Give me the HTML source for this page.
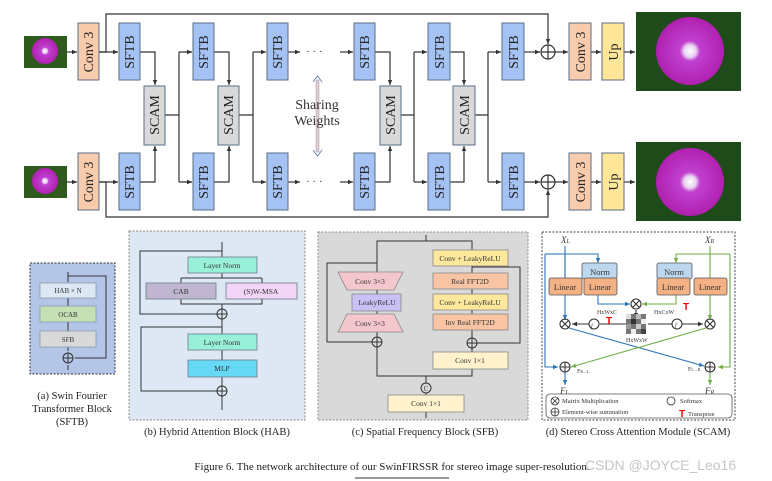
<!DOCTYPE html>
<html><head><meta charset="utf-8"><style>body{margin:0;background:#fff}svg{display:block}</style></head>
<body>
<svg width="772" height="481" viewBox="0 0 772 481" xmlns="http://www.w3.org/2000/svg" font-family="Liberation Serif, serif">
<defs>
<marker id="a" markerWidth="6" markerHeight="6" refX="5" refY="3" orient="auto" markerUnits="userSpaceOnUse"><path d="M0,0.8 L5,3 L0,5.2z" fill="#333"/></marker>
<marker id="ab" markerWidth="6" markerHeight="6" refX="5" refY="3" orient="auto" markerUnits="userSpaceOnUse"><path d="M0,0.8 L5,3 L0,5.2z" fill="#2e75b6"/></marker>
<marker id="ag" markerWidth="6" markerHeight="6" refX="5" refY="3" orient="auto" markerUnits="userSpaceOnUse"><path d="M0,0.8 L5,3 L0,5.2z" fill="#70ad47"/></marker>
<radialGradient id="fl"><stop offset="0" stop-color="#fff"/><stop offset="0.18" stop-color="#e8d0f0"/><stop offset="0.3" stop-color="#c040d0"/><stop offset="1" stop-color="#b020b0"/></radialGradient>
</defs>

<!-- flowers -->
<rect x="24" y="36" width="43" height="32" fill="#2e5a1e"/><circle cx="45" cy="51" r="13" fill="url(#fl)"/>
<rect x="24" y="166" width="43" height="32" fill="#2e5a1e"/><circle cx="45" cy="181" r="13" fill="url(#fl)"/>
<rect x="636" y="12" width="105" height="79" fill="#1f4a1a"/><circle cx="690" cy="51" r="34" fill="url(#fl)"/>
<rect x="636" y="142" width="105" height="79" fill="#1f4a1a"/><circle cx="690" cy="182" r="34" fill="url(#fl)"/>

<g stroke="#333" stroke-width="1.2" fill="none">
<!-- skip lines -->
<path d="M99,52 H106 V14 H548 V44" marker-end="url(#a)"/>
<path d="M99,182 H106 V217 H548 V190" marker-end="url(#a)"/>
<path d="M67,52 H77" marker-end="url(#a)"/><path d="M67,182 H77" marker-end="url(#a)"/>
<path d="M99,52 H118" marker-end="url(#a)"/><path d="M99,182 H118" marker-end="url(#a)"/>
<!-- col1 to scam1 -->
<path d="M140,52 H155 V85" marker-end="url(#a)"/><path d="M140,182 H155 V146" marker-end="url(#a)"/>
<path d="M165,115 H179 M179,52 V182 M179,52 H192 M179,182 H192"/><path d="M186,52 H192" marker-end="url(#a)"/><path d="M186,182 H192" marker-end="url(#a)"/>
<path d="M214,52 H229 V85" marker-end="url(#a)"/><path d="M214,182 H229 V146" marker-end="url(#a)"/>
<path d="M239,115 H253 M253,52 V182"/><path d="M253,52 H266" marker-end="url(#a)"/><path d="M253,182 H266" marker-end="url(#a)"/>
<path d="M288,52 H300" marker-end="url(#a)"/><path d="M288,182 H300" marker-end="url(#a)"/>
<path d="M340,52 H353" marker-end="url(#a)"/><path d="M340,182 H353" marker-end="url(#a)"/>
<path d="M375,52 H390 V85" marker-end="url(#a)"/><path d="M375,182 H390 V146" marker-end="url(#a)"/>
<path d="M401,115 H414 M414,52 V182"/><path d="M414,52 H427" marker-end="url(#a)"/><path d="M414,182 H427" marker-end="url(#a)"/>
<path d="M450,52 H464 V85" marker-end="url(#a)"/><path d="M450,182 H464 V146" marker-end="url(#a)"/>
<path d="M475,115 H488 M488,52 V182"/><path d="M488,52 H501" marker-end="url(#a)"/><path d="M488,182 H501" marker-end="url(#a)"/>
<path d="M524,52 H540" marker-end="url(#a)"/><path d="M524,182 H540" marker-end="url(#a)"/>
<path d="M555,52 H568" marker-end="url(#a)"/><path d="M555,182 H568" marker-end="url(#a)"/>
<path d="M591,52 H601" marker-end="url(#a)"/><path d="M591,182 H601" marker-end="url(#a)"/>
<path d="M624,52 H635" marker-end="url(#a)"/><path d="M624,182 H635" marker-end="url(#a)"/>
<circle cx="548" cy="52" r="7"/><path d="M541,52 H555 M548,45 V59"/>
<circle cx="548" cy="182" r="7"/><path d="M541,182 H555 M548,175 V189"/>
</g>
<g font-size="11" fill="#333"><text x="306" y="55">· · ·</text><text x="306" y="185">· · ·</text></g>

<!-- blocks -->
<g stroke="#5a6e86" stroke-width="1">
<rect x="78" y="23" width="21" height="57" fill="#f8cbad"/><rect x="78" y="153" width="21" height="57" fill="#f8cbad"/>
<rect x="569" y="23" width="22" height="57" fill="#f8cbad"/><rect x="569" y="153" width="22" height="57" fill="#f8cbad"/>
<rect x="602" y="23" width="22" height="57" fill="#ffe699"/><rect x="602" y="153" width="22" height="57" fill="#ffe699"/>
<g fill="#a4c2f4">
<rect x="119" y="23" width="21" height="57"/><rect x="119" y="153" width="21" height="57"/>
<rect x="193" y="23" width="21" height="57"/><rect x="193" y="153" width="21" height="57"/>
<rect x="267" y="23" width="21" height="57"/><rect x="267" y="153" width="21" height="57"/>
<rect x="354" y="23" width="21" height="57"/><rect x="354" y="153" width="21" height="57"/>
<rect x="428" y="23" width="22" height="57"/><rect x="428" y="153" width="22" height="57"/>
<rect x="502" y="23" width="22" height="57"/><rect x="502" y="153" width="22" height="57"/>
</g>
<g fill="#d9d9d9">
<rect x="144" y="86" width="21" height="59"/><rect x="218" y="86" width="21" height="59"/>
<rect x="380" y="86" width="21" height="59"/><rect x="453" y="86" width="22" height="59"/>
</g>
</g>
<g font-size="14" fill="#222" text-anchor="middle">
<text transform="translate(93,52) rotate(-90)">Conv 3</text><text transform="translate(93,182) rotate(-90)">Conv 3</text>
<text transform="translate(585,52) rotate(-90)">Conv 3</text><text transform="translate(585,182) rotate(-90)">Conv 3</text>
<text transform="translate(618,52) rotate(-90)">Up</text><text transform="translate(618,182) rotate(-90)">Up</text>
<text transform="translate(134,52) rotate(-90)">SFTB</text><text transform="translate(134,182) rotate(-90)">SFTB</text>
<text transform="translate(208,52) rotate(-90)">SFTB</text><text transform="translate(208,182) rotate(-90)">SFTB</text>
<text transform="translate(282,52) rotate(-90)">SFTB</text><text transform="translate(282,182) rotate(-90)">SFTB</text>
<text transform="translate(369,52) rotate(-90)">SFTB</text><text transform="translate(369,182) rotate(-90)">SFTB</text>
<text transform="translate(444,52) rotate(-90)">SFTB</text><text transform="translate(444,182) rotate(-90)">SFTB</text>
<text transform="translate(518,52) rotate(-90)">SFTB</text><text transform="translate(518,182) rotate(-90)">SFTB</text>
<text transform="translate(159,115) rotate(-90)">SCAM</text><text transform="translate(233,115) rotate(-90)">SCAM</text>
<text transform="translate(395,115) rotate(-90)">SCAM</text><text transform="translate(469,115) rotate(-90)">SCAM</text>
</g>
<!-- sharing weights -->
<rect x="316" y="80" width="3" height="72" fill="#e8c8d0" stroke="#8aa" stroke-width="0.5"/>
<path d="M313,82 L317.5,76 L322,82 M313,150 L317.5,156 L322,150" stroke="#6a8aaa" fill="none"/>
<g font-size="14" fill="#333" text-anchor="middle"><text x="317" y="109">Sharing</text><text x="317" y="125">Weights</text></g>

<!-- (a) -->
<rect x="30" y="263" width="85" height="111" fill="#b4c6e7" stroke="#333" stroke-dasharray="2,1.5"/>
<g stroke="#333" fill="none" stroke-width="1"><path d="M68,272 V282 M68,276 H106 V358 H75" /><path d="M68,298 V306 M68,322 V331 M68,347 V351 M68,365 V370"/>
<circle cx="68" cy="358" r="5"/><path d="M63,358 H73 M68,353 V363"/></g>
<g stroke="#8a9ab0" stroke-width="0.8"><rect x="40" y="283" width="56" height="15" fill="#dde8f5"/><rect x="40" y="306" width="56" height="16" fill="#c5e0b4"/><rect x="40" y="331" width="56" height="16" fill="#d9d9d9"/></g>
<g font-size="7" fill="#333" text-anchor="middle"><text x="68" y="293">HAB × N</text><text x="68" y="317">OCAB</text><text x="68" y="342">SFB</text></g>
<g font-size="10.5" fill="#222" text-anchor="middle"><text x="72" y="399">(a) Swin Fourier</text><text x="72" y="412">Transformer Block</text><text x="72" y="425">(SFTB)</text></g>

<!-- (b) -->
<rect x="129" y="231" width="176" height="189" fill="#dee8f4" stroke="#888" stroke-dasharray="2,1.5"/>
<g stroke="#333" fill="none" stroke-width="1">
<path d="M222,242 V257 M222,251 H140 V314 H217 M222,273 V278 M181,278 H262 M181,278 V283 M262,278 V283 M181,299 V304 H262 V299 M222,304 V309 M222,319 V334 M222,327 H141 V391 H217 M222,350 V360 M222,377 V386 M222,396 V410"/>
<circle cx="222" cy="314" r="5"/><path d="M217,314 H227 M222,309 V319"/>
<circle cx="222" cy="391" r="5"/><path d="M217,391 H227 M222,386 V396"/></g>
<g stroke="#6a7a8a" stroke-width="0.8"><rect x="188" y="257" width="69" height="16" fill="#99f0d9"/><rect x="146" y="283" width="70" height="16" fill="#c1b6d0"/><rect x="226" y="283" width="71" height="16" fill="#f2d5f6"/><rect x="188" y="334" width="69" height="16" fill="#99f0d9"/><rect x="188" y="360" width="69" height="17" fill="#66d9f7"/></g>
<g font-size="7.5" fill="#333" text-anchor="middle"><text x="222" y="268">Layer Norm</text><text x="181" y="294">CAB</text><text x="261" y="294">(S)W-MSA</text><text x="222" y="345">Layer Norm</text><text x="222" y="371">MLP</text></g>
<text x="217" y="435" font-size="10.5" fill="#222" text-anchor="middle">(b) Hybrid Attention Block (HAB)</text>

<!-- (c) -->
<rect x="318" y="232" width="210" height="188" fill="#d9d9d9" stroke="#8090a0" stroke-dasharray="2,1.5"/>
<g stroke="#333" fill="none" stroke-width="1">
<path d="M426,235 V241 H377 V272 M426,241 H472 V250 M472,266 V273 M472,267 H520 V343 H477 M472,289 V294 M472,310 V314 M472,330 V338 M472,348 V352 M472,369 V376 H426 V383 M377,290 V294 M377,311 V314 M377,332 V337 M377,263 H327 V342 H372 M377,347 V376 H426 M426,393 V395 M426,412 V418"/>
<circle cx="377" cy="342" r="5"/><path d="M372,342 H382 M377,337 V347"/>
<circle cx="472" cy="343" r="5"/><path d="M467,343 H477 M472,338 V348"/>
<circle cx="426" cy="388" r="5"/></g>
<text x="426" y="391" font-size="7" text-anchor="middle" fill="#333">C</text>
<g stroke="#888" stroke-width="0.8">
<path d="M338,272 H403 L394,290 H347z" fill="#f4c7cc"/><path d="M347,314 H394 L403,332 H338z" fill="#f4c7cc"/>
<rect x="352" y="294" width="49" height="17" fill="#cbc0f5"/>
<rect x="433" y="250" width="75" height="16" fill="#fde89c"/><rect x="433" y="273" width="75" height="16" fill="#f8c4a3"/><rect x="433" y="294" width="75" height="16" fill="#fde89c"/><rect x="433" y="314" width="75" height="16" fill="#f8c4a3"/><rect x="433" y="352" width="75" height="17" fill="#fff2cc"/><rect x="388" y="395" width="76" height="17" fill="#fff2cc"/></g>
<g font-size="7.5" fill="#333" text-anchor="middle"><text x="370" y="284">Conv 3×3</text><text x="377" y="305">LeakyReLU</text><text x="370" y="326">Conv 3×3</text><text x="470" y="261">Conv + LeakyReLU</text><text x="470" y="284">Real FFT2D</text><text x="470" y="305">Conv + LeakyReLU</text><text x="470" y="325">Inv Real FFT2D</text><text x="470" y="363">Conv 1×1</text><text x="426" y="406">Conv 1×1</text></g>
<text x="425" y="435" font-size="10.5" fill="#222" text-anchor="middle">(c) Spatial Frequency Block (SFB)</text>

<!-- (d) -->
<rect x="542" y="232" width="193" height="188" fill="#fff" stroke="#444" stroke-dasharray="2,1.5"/>
<g fill="none" stroke-width="1.1">
<g stroke="#2e75b6">
<path d="M565,246 V278"/><path d="M565,254 V320" marker-end="url(#ab)"/>
<path d="M561,254 H598 V263" marker-end="url(#ab)"/>
<path d="M545,254 H561"/>
<path d="M545,254 V367 H558" marker-end="url(#ab)"/>
<path d="M598,294 V304 H630" marker-end="url(#ab)"/>
<path d="M569,328 L704,366" marker-end="url(#ab)"/>
<path d="M565,372 V385" marker-end="url(#ab)"/>
</g>
<g stroke="#70ad47">
<path d="M710,246 V320" marker-end="url(#ag)"/>
<path d="M730,254 H676 V263" marker-end="url(#ag)"/>
<path d="M730,254 V367 H718" marker-end="url(#ag)"/>
<path d="M676,294 V304 H642" marker-end="url(#ag)"/>
<path d="M706,328 L571,367" marker-end="url(#ag)"/>
<path d="M710,372 V385" marker-end="url(#ag)"/>
</g>
<g stroke="#333">
<path d="M636,310 V318" marker-end="url(#a)"/>
<path d="M626,324 H600 M589,324 H572" marker-end="url(#a)"/>
<path d="M648,324 H672 M682,324 H703" marker-end="url(#a)"/>
<circle cx="636" cy="304" r="5"/><path d="M632.5,300.5 L639.5,307.5 M639.5,300.5 L632.5,307.5"/>
<circle cx="565" cy="324" r="5"/><path d="M561.5,320.5 L568.5,327.5 M568.5,320.5 L561.5,327.5"/>
<circle cx="710" cy="324" r="5"/><path d="M706.5,320.5 L713.5,327.5 M713.5,320.5 L706.5,327.5"/>
<circle cx="594" cy="324" r="5"/><circle cx="677" cy="324" r="5"/>
<circle cx="565" cy="367" r="5"/><path d="M560,367 H570 M565,362 V372"/>
<circle cx="710" cy="367" r="5"/><path d="M705,367 H715 M710,362 V372"/>
</g></g>
<g stroke="#555" stroke-width="0.8">
<rect x="582" y="263" width="35" height="16" fill="#bdd7ee" rx="2"/><rect x="657" y="263" width="35" height="16" fill="#bdd7ee" rx="2"/>
<rect x="549" y="278" width="33" height="17" fill="#f4b183" rx="2"/><rect x="584" y="278" width="33" height="17" fill="#f4b183" rx="2"/>
<rect x="657" y="278" width="33" height="17" fill="#f4b183" rx="2"/><rect x="694" y="278" width="33" height="17" fill="#f4b183" rx="2"/>
</g>
<g transform="translate(626,314)"><rect width="20" height="20" fill="#777"/><rect x="0" y="0" width="5" height="5" fill="#ddd"/><rect x="10" y="0" width="5" height="5" fill="#bbb"/><rect x="5" y="5" width="5" height="5" fill="#333"/><rect x="15" y="5" width="5" height="5" fill="#eee"/><rect x="0" y="10" width="5" height="5" fill="#999"/><rect x="10" y="10" width="5" height="5" fill="#ccc"/><rect x="5" y="15" width="5" height="5" fill="#eee"/><rect x="15" y="15" width="5" height="5" fill="#444"/></g>
<g font-size="8.5" fill="#333" text-anchor="middle"><text x="600" y="275">Norm</text><text x="674" y="275">Norm</text><text x="565" y="290">Linear</text><text x="600" y="290">Linear</text><text x="673" y="290">Linear</text><text x="710" y="290">Linear</text></g>
<g font-size="6" fill="#333"><text x="597" y="314">HxWxC</text><text x="654" y="314">HxCxW</text><text x="626" y="342">HxWxW</text><text x="577" y="373">F<tspan font-size="4">R→L</tspan></text><text x="688" y="371">F<tspan font-size="4">L→R</tspan></text>
<text x="591" y="328" font-style="italic">f</text><text x="675" y="327" font-style="italic">f</text></g>
<g font-size="9" fill="#333" font-style="italic"><text x="561" y="243">X<tspan font-size="6">L</tspan></text><text x="705" y="243">X<tspan font-size="6">R</tspan></text><text x="560" y="394">F<tspan font-size="6">L</tspan></text><text x="705" y="394">F<tspan font-size="6">R</tspan></text></g>
<g font-weight="bold" fill="#e00" font-size="10" font-family="Liberation Sans, sans-serif"><text x="683" y="310">T</text><text x="606" y="324">T</text><text x="679" y="417">T</text></g>
<rect x="546" y="394" width="186" height="24" rx="4" fill="none" stroke="#555" stroke-width="0.8"/>
<g stroke="#333" fill="none" stroke-width="0.8"><circle cx="555" cy="401" r="4"/><path d="M552,398 L558,404 M558,398 L552,404"/><circle cx="555" cy="412" r="4"/><path d="M551,412 H559 M555,408 V416"/><circle cx="671" cy="401" r="4"/></g>
<g font-size="6.5" fill="#333"><text x="562" y="403">Matrix Multiplication</text><text x="562" y="414">Element-wise summation</text><text x="680" y="403">Softmax</text><text x="688" y="416">Transpose</text></g>
<text x="638" y="435" font-size="10.5" fill="#222" text-anchor="middle">(d) Stereo Cross Attention Module (SCAM)</text>

<!-- caption -->
<text x="392" y="470" font-size="11" fill="#222" text-anchor="middle">Figure 6. The network architecture of our SwinFIRSSR for stereo image super-resolution.</text>
<path d="M355,478 H449" stroke="#333" stroke-width="1"/>
<text x="585" y="470" font-size="14" fill="#bbb" font-family="Liberation Sans, sans-serif" opacity="0.85">CSDN @JOYCE_Leo16</text>
</svg>
</body></html>
